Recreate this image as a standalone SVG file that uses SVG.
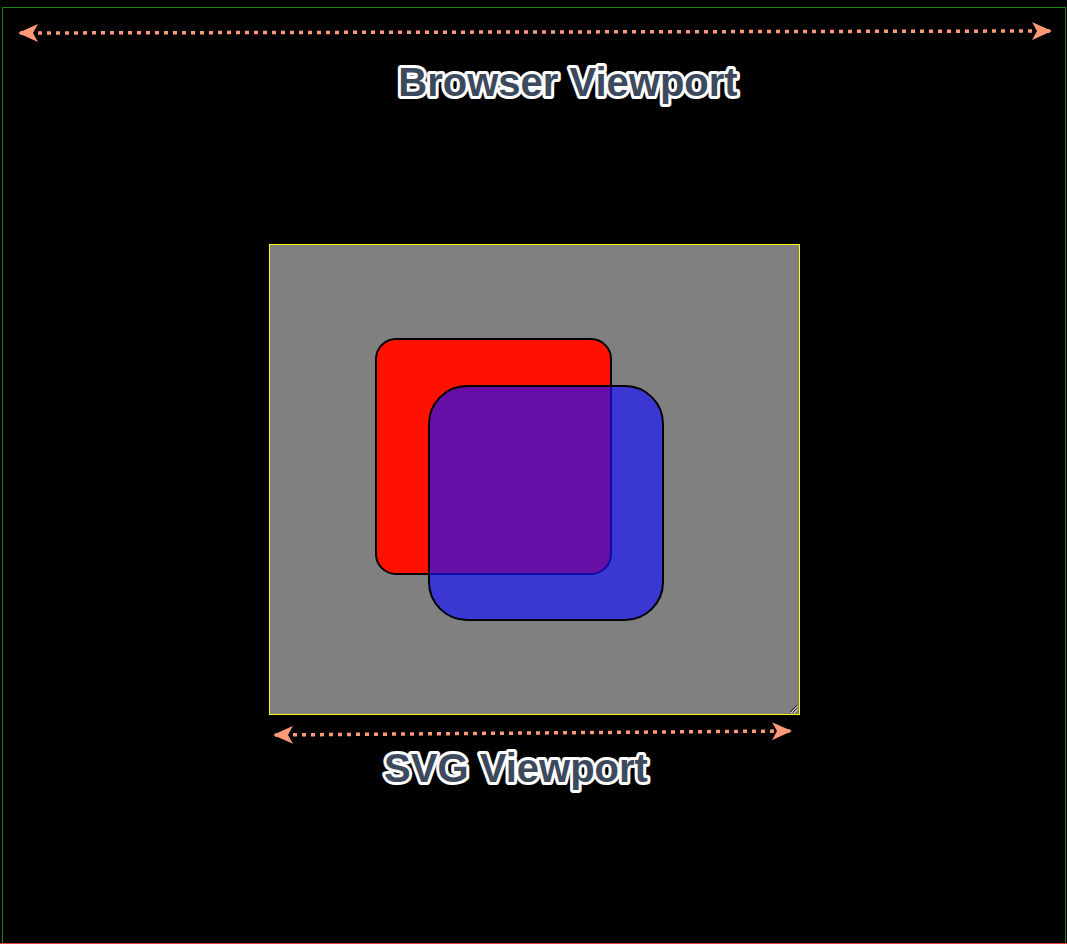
<svg xmlns="http://www.w3.org/2000/svg" width="1067" height="944" viewBox="0 0 1067 944">
<style>
.lbl{font-family:"Liberation Sans",Arial,sans-serif;font-weight:bold;font-size:40px;fill:#3d4a5e;stroke:#ffffff;stroke-width:6;paint-order:stroke fill;stroke-linejoin:round;text-anchor:middle}
.dim{stroke:#ff9977;stroke-width:3.5;stroke-dasharray:4 5;fill:none}
</style>
<defs>
<marker id="ah" viewBox="0 0 20 18" refX="18" refY="9" markerWidth="20" markerHeight="18" markerUnits="userSpaceOnUse" orient="auto-start-reverse">
<path d="M0,0 L20,9 L0,18 L5,9 Z" fill="#ff9977"/>
</marker>
</defs>
<rect x="0" y="0" width="1067" height="944" fill="#000"/>
<g id="browser-viewport">
<rect x="2.5" y="7.5" width="1063" height="940" fill="none" stroke="#118811" stroke-width="1"/>
<line x1="0" y1="943.5" x2="1067" y2="943.5" stroke="#dd4444" stroke-width="1"/>
<text class="lbl" x="568" y="96" paint-order="stroke">Browser Viewport</text>
</g>
<g id="svg-viewport">
<rect x="269.5" y="244.5" width="530" height="470" fill="#808080" stroke="#ffff00" stroke-width="1"/>
<g stroke-width="1">
<line x1="790" y1="712" x2="797" y2="705" stroke="#222"/>
<line x1="793" y1="712" x2="797" y2="708" stroke="#222"/>
<line x1="791" y1="713" x2="798" y2="706" stroke="#ddd"/>
<line x1="794" y1="713" x2="798" y2="709" stroke="#ddd"/>
</g>
<text class="lbl" x="516" y="782" paint-order="stroke">SVG Viewport</text>
</g>
<g id="red-square">
<rect x="376" y="339" width="235" height="235" rx="20" fill="#ff1100" stroke="#000" stroke-width="2"/>
</g>
<g id="blue-square">
<rect x="429" y="386" width="234" height="234" rx="38" fill="#1410ff" fill-opacity="0.65" stroke="#000" stroke-width="2"/>
</g>
<g id="connectors">
<line class="dim" x1="20" y1="33" x2="1050" y2="31" marker-start="url(#ah)" marker-end="url(#ah)"/>
<line class="dim" x1="275" y1="735" x2="790" y2="731" marker-start="url(#ah)" marker-end="url(#ah)"/>
</g>
</svg>
